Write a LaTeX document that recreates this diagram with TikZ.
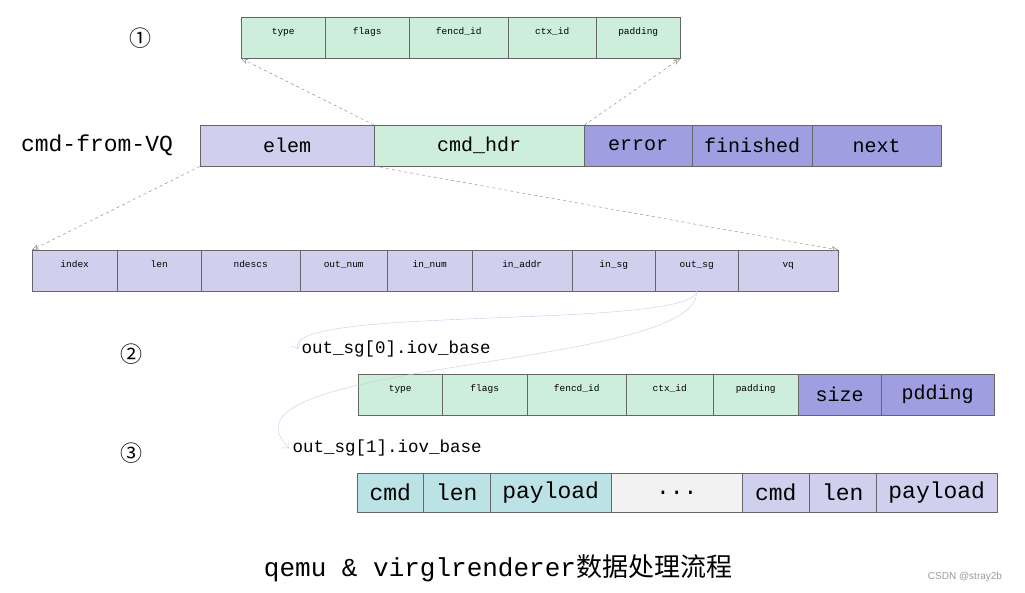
\documentclass[tikz,border=0pt]{standalone}
\usepackage{fontspec}
\setmainfont{Liberation Mono}
\newfontfamily\cjk{Noto Sans CJK SC}
\newfontfamily\wm{Liberation Sans}
\usetikzlibrary{positioning,arrows.meta}
\definecolor{cgreen}{HTML}{CCEEDB}
\definecolor{clav}{HTML}{D0D0EE}
\definecolor{cpurp}{HTML}{9E9EE0}
\definecolor{cteal}{HTML}{BBE2E4}
\definecolor{cgray}{HTML}{F2F2F2}
\definecolor{ccurve}{HTML}{C8C8EC}
\newcommand\gapdots{.{}.{}.}
\tikzset{
  x=1pt,y=-1pt,
  cell/.style={
    draw=black!60, anchor=north west, inner sep=0pt,
    minimum height=41pt
  },
  small/.style={font=\fontsize{9.5}{12}\selectfont, text height=7pt, text depth=14pt},
  big/.style={font=\fontsize{20}{22}\selectfont},
  huge/.style={font=\fontsize{23}{26}\selectfont},
  circ/.style={font=\cjk\fontsize{22}{24}\selectfont},
  zoom/.style={draw=black!50, dashed, -{Stealth[open,length=7pt]}},
  flow/.style={draw=ccurve, -{Straight Barb[length=5pt]}}
}
\begin{document}
\begin{tikzpicture}
  \useasboundingbox (0,0) rectangle (1025,593);

  % top header
  \foreach \n/\x/\w/\t in {h1/241/84/type,h2/325/84/flags,h3/409/99/fencd\_id,
                           h4/508/88/ctx\_id,h5/596/84/padding}
    \node[cell,small,fill=cgreen,minimum width=\w pt] (\n) at (\x,17) {\t};
  \node[circ] (n1) at (140,38) {①};

  % cmd-from-VQ
  \node[huge] (vq) at (97,145) {cmd-from-VQ};
  \foreach \n/\x/\w/\t/\c in {elem/200/174/elem/clav,hdr/374/210/cmd\_hdr/cgreen,
                              err/584/108/error/cpurp,fin/692/120/finished/cpurp,
                              nxt/812/129/next/cpurp}
    \node[cell,big,fill=\c,minimum width=\w pt] (\n) at (\x,125) {\t};

  \draw[zoom] (hdr.north west) -- (h1.south west);
  \draw[zoom] (hdr.north east) -- (h5.south east);

  % virtqueue element
  \foreach \n/\x/\w/\t in {e1/32/85/index,e2/117/84/len,e3/201/99/ndescs,
                           e4/300/87/out\_num,e5/387/85/in\_num,e6/472/100/in\_addr,
                           e7/572/83/in\_sg,e8/655/83/out\_sg,e9/738/100/vq}
    \node[cell,small,fill=clav,minimum width=\w pt] (\n) at (\x,250) {\t};

  \draw[zoom] (elem.south west) -- (e1.north west);
  \draw[zoom] (elem.south east) -- (e9.north east);

  % out_sg[0]
  \node[circ] (n2) at (131,354) {②};
  \node[font=\fontsize{17.5}{20}\selectfont, anchor=west] (sg0) at (298,349) {out\_sg[0].iov\_base};
  \foreach \n/\x/\w/\t in {g1/358/84/type,g2/442/85/flags,g3/527/99/fencd\_id,
                           g4/626/87/ctx\_id,g5/713/85/padding}
    \node[cell,small,fill=cgreen,minimum width=\w pt] (\n) at (\x,374) {\t};
  \node[cell,big,fill=cpurp,minimum width=83pt] (g6) at (798,374) {size};
  \node[cell,big,fill=cpurp,minimum width=113pt] (g7) at (881,374) {pdding};

  % out_sg[1]
  \node[circ] (n3) at (131,453) {③};
  \node[font=\fontsize{17.5}{20}\selectfont, anchor=west] (sg1) at (289,448) {out\_sg[1].iov\_base};
  \foreach \n/\x/\w/\t/\c in {p1/357/66/cmd/cteal,p2/423/67/len/cteal,p3/490/121/payload/cteal,
                              p4/611/131/\gapdots/cgray,p5/742/67/cmd/clav,p6/809/67/len/clav,
                              p7/876/121/payload/clav}
    \node[cell,huge,fill=\c,minimum width=\w pt,minimum height=39pt] (\n) at (\x,473) {\t};

  \draw[flow] (e8.south) .. controls (690,330) and (280,305) .. (sg0.west);
  \draw[flow] (e8.south) .. controls (700,370) and (200,360) .. (sg1.west);

  % title
  \node[font=\fontsize{26}{30}\selectfont] (ttl) at (498,568) {qemu \& virglrenderer{\cjk 数据处理流程}};
  \node[font=\wm\fontsize{10}{12}\selectfont, text=black!40] (wmk) at (965,577) {CSDN @stray2b};
\end{tikzpicture}
\end{document}
